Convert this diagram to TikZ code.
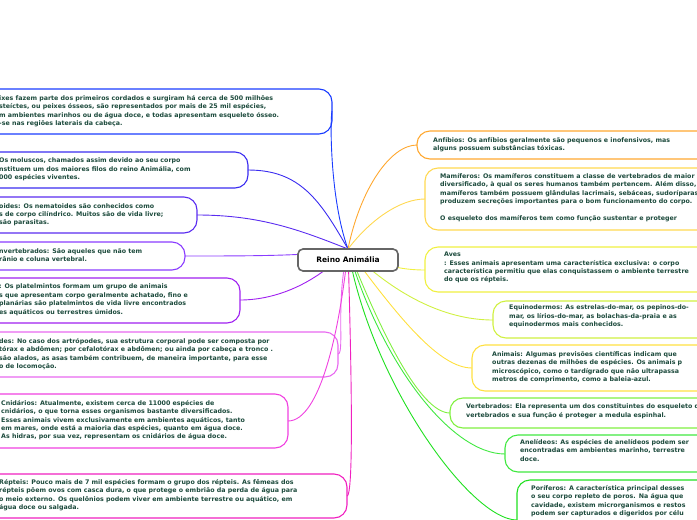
\documentclass[tikz,border=0pt]{standalone}
\usepackage{fontspec}
\setmainfont{DejaVu Sans}
\begin{document}
\begin{tikzpicture}[x=1pt,y=-1pt,
  box/.style={line width=1.1pt,rounded corners=13pt},
  txt/.style={font=\bfseries\fontsize{6.3}{8.4}\selectfont,text=tc,align=left,inner sep=0pt,anchor=north west},
  con/.style={line width=0.9pt},
  cbox/.style={draw=gray!80!black,line width=1.6pt,rounded corners=5pt,fill=white,minimum width=100pt,minimum height=22pt,font=\bfseries\fontsize{7.5}{9}\selectfont,text=black}]
\definecolor{tc}{HTML}{1C4A3C}
\useasboundingbox (0,0) rectangle (697,520);
\clip (0,0) rectangle (697,520);
\definecolor{cPei}{HTML}{1A3CFF}\definecolor{cMol}{HTML}{3A2CF0}\definecolor{cNem}{HTML}{5A2CF0}
\definecolor{cInv}{HTML}{8A3CFF}\definecolor{cPla}{HTML}{A020F0}\definecolor{cArt}{HTML}{E868F0}
\definecolor{cCni}{HTML}{F040E0}\definecolor{cRep}{HTML}{F020C0}
\definecolor{cAnf}{HTML}{FFA830}\definecolor{cMam}{HTML}{FFD850}\definecolor{cAve}{HTML}{F0F040}
\definecolor{cEqu}{HTML}{D0F040}\definecolor{cAni}{HTML}{FFE040}\definecolor{cVer}{HTML}{80F040}
\definecolor{cAne}{HTML}{40E840}\definecolor{cPor}{HTML}{20E020}
% left boxes
\draw[box,cPei] (-30,89) rectangle (332,134); \coordinate (pei) at (332,111);
\node[txt] at (-1,95) {ixes fazem parte dos primeiros cordados e surgiram há cerca de 500 milhões\\steíctes, ou peixes ósseos, são representados por mais de 25 mil espécies,\\m ambientes marinhos ou de água doce, e todas apresentam esqueleto ósseo.\\-se nas regiões laterais da cabeça.};
\draw[box,cMol] (-30,152) rectangle (248,188); \coordinate (mol) at (248,170);
\node[txt] at (-1,158) {Os moluscos, chamados assim devido ao seu corpo\\nstituem um dos maiores filos do reino Animália, com\\ 000 espécies viventes.};
\draw[box,cNem] (-30,197) rectangle (197,233); \coordinate (nem) at (197,215);
\node[txt] at (-1,203) {oides: Os nematoides são conhecidos como\\s de corpo cilíndrico. Muitos são de vida livre;\\ são parasitas.};
\draw[box,cInv] (-30,242) rectangle (185,270); \coordinate (inv) at (185,256);
\node[txt] at (-1,248) {nvertebrados: São aqueles que não tem\\rânio e coluna vertebral.};
\draw[box,cPla] (-30,278) rectangle (240,323); \coordinate (pla) at (240,300);
\node[txt] at (-1,284) {: Os platelmintos formam um grupo de animais\\s que apresentam corpo geralmente achatado, fino e\\ planárias são platelmintos de vida livre encontrados\\es aquáticos ou terrestres úmidos.};
\draw[box,cArt] (-30,332) rectangle (338,377); \coordinate (art) at (338,354);
\node[txt] at (-1,338) {des: No caso dos artrópodes, sua estrutura corporal pode ser composta por\\ tórax e abdômen; por cefalotórax e abdômen; ou ainda por cabeça e tronco .\\ são alados, as asas também contribuem, de maneira importante, para esse\\o de locomoção.};
\draw[box,cCni] (-30,394) rectangle (288,448); \coordinate (cni) at (288,421);
\node[txt] at (1,400) {Cnidários: Atualmente, existem cerca de 11000 espécies de\\cnidários, o que torna esses organismos bastante diversificados.\\Esses animais vivem exclusivamente em ambientes aquáticos, tanto\\em mares, onde está a maioria das espécies, quanto em água doce.\\As hidras, por sua vez, representam os cnidários de água doce.};
\draw[box,cRep] (-30,474) rectangle (347,518); \coordinate (rep) at (347,496);
\node[txt] at (-1,479) {Répteis: Pouco mais de 7 mil espécies formam o grupo dos répteis. As fêmeas dos\\répteis põem ovos com casca dura, o que protege o embrião da perda de água para\\o meio externo. Os quelônios podem viver em ambiente terrestre ou aquático, em\\água doce ou salgada.};
% right boxes
\draw[box,cAnf] (417,131) rectangle (760,159); \coordinate (anf) at (417,145);
\node[txt] at (433,137) {Anfíbios: Os anfíbios geralmente são pequenos e inofensivos, mas\\alguns possuem substâncias tóxicas.};
\draw[box,cMam] (425,168) rectangle (760,230); \coordinate (mam) at (425,199);
\node[txt] at (440,173) {Mamíferos: Os mamíferos constituem a classe de vertebrados de maior\\diversificado, à qual os seres humanos também pertencem. Além disso,\\mamíferos também possuem glândulas lacrimais, sebáceas, sudoríparas\\produzem secreções importantes para o bom funcionamento do corpo.\\[8.4pt]O esqueleto dos mamíferos tem como função sustentar e proteger};
\draw[box,cAve] (425,247) rectangle (760,292); \coordinate (ave) at (425,270);
\node[txt] at (444,252) {Aves\\: Esses animais apresentam uma característica exclusiva: o corpo\\característica permitiu que elas conquistassem o ambiente terrestre\\do que os répteis.};
\draw[box,cEqu] (493,301) rectangle (760,338); \coordinate (equ) at (493,320);
\node[txt] at (509,305) {Equinodermos: As estrelas-do-mar, os pepinos-do-\\mar, os lírios-do-mar, as bolachas-da-praia e as\\equinodermos mais conhecidos.};
\draw[box,cAni] (472,345) rectangle (760,391); \coordinate (ani) at (472,368);
\node[txt] at (492,351) {Animais: Algumas previsões científicas indicam que\\outras dezenas de milhões de espécies. Os animais p\\microscópico, como o tardígrado que não ultrapassa\\metros de comprimento, como a baleia-azul.};
\draw[box,cVer] (450,398) rectangle (760,428); \coordinate (ver) at (450,413);
\node[txt] at (466,404) {Vertebrados: Ela representa um dos constituintes do esqueleto dos\\vertebrados e sua função é proteger a medula espinhal.};
\draw[box,cAne] (505,435) rectangle (760,472); \coordinate (ane) at (505,454);
\node[txt] at (520,439) {Anelídeos: As espécies de anelídeos podem ser\\encontradas em ambientes marinho, terrestre\\doce.};
\draw[box,cPor] (517,480) rectangle (760,560); \coordinate (por) at (517,520);
\node[txt] at (531,485) {Poríferos: A característica principal desses\\o seu corpo repleto de poros. Na água que\\cavidade, existem microrganismos e restos\\podem ser capturados e digeridos por célu};
% connectors
\coordinate (s) at (348,249);
\draw[con,cPei] (s) .. controls (330,200) and (330,120) .. (pei);
\draw[con,cMol] (s) .. controls (320,200) and (300,170) .. (mol);
\draw[con,cNem] (s) .. controls (300,230) and (260,215) .. (nem);
\draw[con,cInv] (s) .. controls (320,256) and (250,256) .. (inv);
\draw[con,cPla] (s) .. controls (320,280) and (280,300) .. (pla);
\draw[con,cArt] (s) .. controls (335,300) and (345,354) .. (art);
\draw[con,cCni] (s) .. controls (340,330) and (320,421) .. (cni);
\draw[con,cRep] (s) .. controls (350,320) and (355,496) .. (rep);
\draw[con,cAnf] (s) .. controls (360,190) and (390,145) .. (anf);
\draw[con,cMam] (s) .. controls (370,220) and (400,199) .. (mam);
\draw[con,cAve] (s) .. controls (380,265) and (400,270) .. (ave);
\draw[con,cEqu] (s) .. controls (400,300) and (450,320) .. (equ);
\draw[con,cAni] (s) .. controls (400,320) and (440,368) .. (ani);
\draw[con,cVer] (s) .. controls (380,330) and (420,413) .. (ver);
\draw[con,cAne] (s) .. controls (380,360) and (450,454) .. (ane);
\draw[con,cPor] (s) .. controls (370,380) and (470,520) .. (por);
\node[cbox] (c) at (348,260) {Reino Animália};
\end{tikzpicture}
\end{document}
